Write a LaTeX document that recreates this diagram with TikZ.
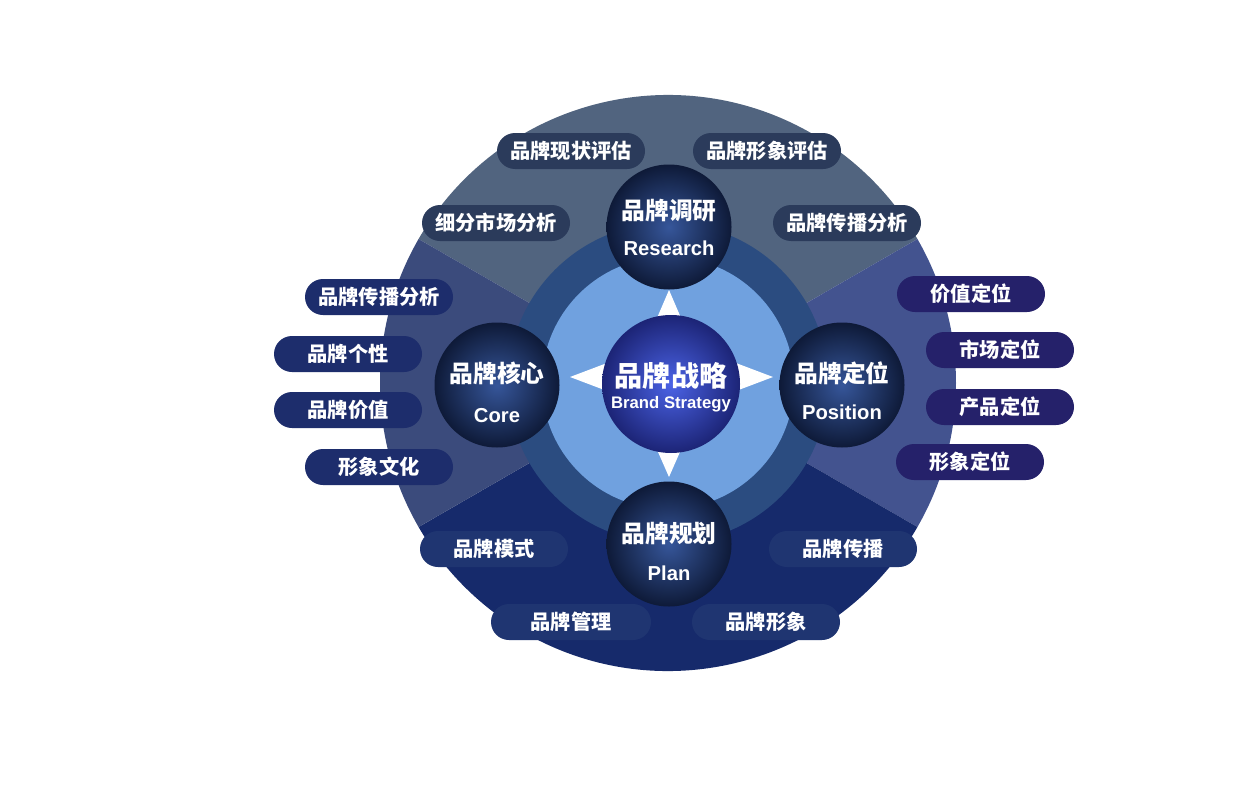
\documentclass[tikz,border=0pt]{standalone}
\usepackage{fontspec}
\setmainfont{Liberation Sans}
\newfontfamily\cjk{Noto Sans CJK SC}
\usetikzlibrary{calc}

\definecolor{secTop}{HTML}{51647F}
\definecolor{secLeft}{HTML}{3B4B7C}
\definecolor{secRight}{HTML}{43538F}
\definecolor{secBottom}{HTML}{162A6B}
\definecolor{ringBlue}{HTML}{2B4C80}
\definecolor{discBlue}{HTML}{70A1DF}
\definecolor{ballIn}{HTML}{36569A}
\definecolor{ballOut}{HTML}{0E1A38}
\definecolor{hubIn}{HTML}{4B63E6}
\definecolor{hubOut}{HTML}{1C2476}
\definecolor{pillTop}{HTML}{2B3B5B}
\definecolor{pillLeft}{HTML}{1D2D6C}
\definecolor{pillRight}{HTML}{25216A}
\definecolor{pillBottom}{HTML}{1F3571}

% pie wedge: [style](centre)(from:to:radius)
\def\pie[#1](#2)(#3:#4:#5){\fill[#1] (#2) -- ++(#3:#5) arc (#3:#4:#5) -- cycle;}

\tikzset{
	pill/.style={rounded corners=3.6mm, minimum width=29.6mm, minimum height=7.2mm, inner sep=0pt, text=white, font=\cjk\bfseries\fontsize{11.5}{12}\selectfont},
	ball/.style={circle, minimum size=25mm, inner sep=0pt, shading=radial, inner color=ballIn, outer color=ballOut},
	zhBig/.style={text=white, inner sep=0pt, font=\cjk\bfseries\fontsize{13.5}{14}\selectfont},
	enSmall/.style={text=white, inner sep=0pt, font=\bfseries\fontsize{11.5}{12}\selectfont},
}

\begin{document}
\begin{tikzpicture}[x=0.2mm, y=-0.2mm]
			%%%%% START %%%%%
			\fill[white] (0, 0) rectangle (1254, 802);
			\useasboundingbox (0, 0) rectangle (1254, 802);
			
			\coordinate (o) at (668, 383);
			
			% outer ring, four parts
			\pie[secTop](o)(210:330:288)
			\pie[secRight](o)(330:390:288)
			\pie[secBottom](o)(30:150:288)
			\pie[secLeft](o)(150:210:288)
			
			\fill[ringBlue] (o) circle (160);
			\fill[discBlue] (o) circle (126);
			
			% white arrows
			\fill[white] (669, 290) -- (651, 332) -- (687, 332) -- cycle;
			\fill[white] (669, 477) -- (651, 436) -- (687, 436) -- cycle;
			\fill[white] (570, 377) -- (615, 360) -- (615, 394) -- cycle;
			\fill[white] (773, 377) -- (728, 360) -- (728, 394) -- cycle;
			
			% spheres
			\node[circle, minimum size=27.6mm, inner sep=0pt, shading=radial, inner color=hubIn, outer color=hubOut] (hub) at (671, 384) {};
			\node[zhBig, font=\cjk\bfseries\fontsize{16}{16}\selectfont] (hubZh) at ($(hub)+(0, -8)$) {品牌战略};
			\node[enSmall, font=\bfseries\fontsize{9.5}{10}\selectfont] (hubEn) at ($(hub)+(0, 20)$) {Brand Strategy};
			
			\node[ball] (res) at (669, 227) {};
			\node[zhBig] (resZh) at ($(res)+(0, -16)$) {品牌调研};
			\node[enSmall] (resEn) at ($(res)+(0, 21)$) {Research};
			
			\node[ball] (core) at (497, 385) {};
			\node[zhBig] (coreZh) at ($(core)+(0, -12)$) {品牌核心};
			\node[enSmall] (coreEn) at ($(core)+(0, 31)$) {Core};
			
			\node[ball] (pos) at (842, 385) {};
			\node[zhBig] (posZh) at ($(pos)+(0, -12)$) {品牌定位};
			\node[enSmall] (posEn) at ($(pos)+(0, 27)$) {Position};
			
			\node[ball] (plan) at (669, 544) {};
			\node[zhBig] (planZh) at ($(plan)+(0, -10)$) {品牌规划};
			\node[enSmall] (planEn) at ($(plan)+(0, 29)$) {Plan};
			
			% research items
			\node[pill, fill=pillTop] (nowEval) at (571, 151) {品牌现状评估};
			\node[pill, fill=pillTop] (imgEval) at (767, 151) {品牌形象评估};
			\node[pill, fill=pillTop] (segMkt) at (496, 223) {细分市场分析};
			\node[pill, fill=pillTop] (commAna) at (847, 223) {品牌传播分析};
			
			% core items
			\node[pill, fill=pillLeft] (commAnaL) at (379, 297) {品牌传播分析};
			\node[pill, fill=pillLeft] (persona) at (348, 354) {品牌个性};
			\node[pill, fill=pillLeft] (value) at (348, 410) {品牌价值};
			\node[pill, fill=pillLeft] (culture) at (379, 467) {形象文化};
			
			% position items
			\node[pill, fill=pillRight] (posValue) at (971, 294) {价值定位};
			\node[pill, fill=pillRight] (posMkt) at (1000, 350) {市场定位};
			\node[pill, fill=pillRight] (posProd) at (1000, 407) {产品定位};
			\node[pill, fill=pillRight] (posImg) at (970, 462) {形象定位};
			
			% plan items
			\node[pill, fill=pillBottom] (mode) at (494, 549) {品牌模式};
			\node[pill, fill=pillBottom] (comm) at (843, 549) {品牌传播};
			\node[pill, fill=pillBottom, minimum width=32mm] (manage) at (571, 622) {品牌管理};
			\node[pill, fill=pillBottom] (image) at (766, 622) {品牌形象};
			%%%%% END %%%%%
\end{tikzpicture}
\end{document}
